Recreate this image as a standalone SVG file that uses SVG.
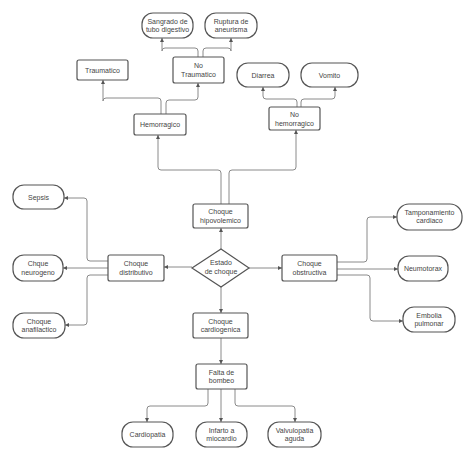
<svg xmlns="http://www.w3.org/2000/svg" width="474" height="460" viewBox="0 0 474 460">
<defs>
<marker id="ah" viewBox="0 0 6 6" refX="6" refY="3" markerWidth="4" markerHeight="4" orient="auto" markerUnits="userSpaceOnUse">
<path d="M0,0 L6,3 L0,6 z" fill="#555"/>
</marker>
<style>
.n rect, .n path.s { fill:#fff; stroke:#555; stroke-width:1.2; }
.n text { font-family:"Liberation Sans", Arial, sans-serif; font-size:7px; fill:#444; text-anchor:middle; }
.c path { fill:none; stroke:#8a8a8a; stroke-width:1; marker-end:url(#ah); }
</style>
</defs>
<rect width="474" height="460" fill="#fff"/>
<g class="c">
<!-- No Traumatico to children -->
<path d="M198,57 V51 Q198,48 195,48 H165 Q162,48 162,51 V38"/>
<path d="M203,57 V51 Q203,48 206,48 H228 Q231,48 231,51 V38"/>
<!-- Hemorragico to children -->
<path d="M161,114 V101 Q161,98 158,98 H106 Q103,98 103,101 V80"/>
<path d="M166,114 V103 Q166,100 169,100 H195 Q198,100 198,97 V83"/>
<!-- No hemorragico to children -->
<path d="M297,107 V102 Q297,99 294,99 H266 Q263,99 263,96 V87"/>
<path d="M301,107 V102 Q301,99 304,99 H332 Q335,99 335,96 V87"/>
<!-- hipovolemico to Hemorragico / No hemorragico -->
<path d="M221,204 V173 Q221,170 218,170 H161 Q158,170 158,167 V135"/>
<path d="M229,204 V173 Q229,170 232,170 H293 Q296,170 296,167 V130"/>
<!-- diamond -->
<path d="M221,249 V228"/>
<path d="M221,287 V313"/>
<path d="M249,268 H282"/>
<path d="M192,267 H164"/>
<!-- distributivo -->
<path d="M108,261 H90 Q87,261 87,258 V201 Q87,198 84,198 H64"/>
<path d="M108,268 H63"/>
<path d="M108,275 H90 Q87,275 87,278 V322 Q87,325 84,325 H65"/>
<!-- obstructiva -->
<path d="M337,262 H364 Q367,262 367,259 V220 Q367,217 370,217 H397"/>
<path d="M337,269 H398"/>
<path d="M337,275 H367 Q370,275 370,278 V318 Q370,321 373,321 H403"/>
<!-- cardiogenica -->
<path d="M221,338 V364"/>
<!-- falta de bombeo -->
<path d="M208,389 V403 Q208,406 205,406 H150 Q147,406 147,409 V422"/>
<path d="M221,389 V422"/>
<path d="M235,389 V403 Q235,406 238,406 H292 Q295,406 295,409 V422"/>
</g>
<g id="sangrado" class="n"><rect x="142" y="13" width="51" height="25" rx="11"/><text x="167.5" y="23.5">Sangrado de</text><text x="167.5" y="32">tubo digestivo</text></g>
<g id="ruptura" class="n"><rect x="205" y="13" width="52" height="25" rx="11"/><text x="231" y="23.5">Ruptura de</text><text x="231" y="32">aneurisma</text></g>
<g id="traumatico" class="n"><rect x="77" y="60" width="51" height="20" rx="2"/><text x="102.5" y="72.5">Traumatico</text></g>
<g id="notraumatico" class="n"><rect x="173" y="57" width="51" height="26" rx="2"/><text x="198.5" y="68">No</text><text x="198.5" y="76.5">Traumatico</text></g>
<g id="hemorragico" class="n"><rect x="134" y="114" width="52" height="21" rx="2"/><text x="160" y="127">Hemorragico</text></g>
<g id="diarrea" class="n"><rect x="237" y="63" width="52" height="24" rx="11"/><text x="263" y="77.5">Diarrea</text></g>
<g id="vomito" class="n"><rect x="301" y="63" width="57" height="24" rx="11"/><text x="329.5" y="77.5">Vomito</text></g>
<g id="nohemorragico" class="n"><rect x="269" y="107" width="51" height="23" rx="2"/><text x="294.5" y="117">No</text><text x="294.5" y="125.5">hemorragico</text></g>
<g id="hipovolemico" class="n"><rect x="193" y="204" width="55" height="24" rx="2"/><text x="220.5" y="214">Choque</text><text x="220.5" y="222.5">hipovolemico</text></g>
<g id="estado" class="n"><path class="s" d="M221,249 L249,268 L221,287 L192,268 z"/><text x="221" y="265">Estado</text><text x="221" y="273.5">de choque</text></g>
<g id="distributivo" class="n"><rect x="108" y="255" width="56" height="26" rx="2"/><text x="136" y="266">Choque</text><text x="136" y="274.5">distributivo</text></g>
<g id="obstructiva" class="n"><rect x="282" y="255" width="55" height="26" rx="2"/><text x="309.5" y="266">Choque</text><text x="309.5" y="274.5">obstructiva</text></g>
<g id="sepsis" class="n"><rect x="13" y="185" width="51" height="24" rx="11"/><text x="38.5" y="199.5">Sepsis</text></g>
<g id="neurogeno" class="n"><rect x="13" y="255" width="50" height="26" rx="11"/><text x="38" y="266">Chque</text><text x="38" y="274.5">neurogeno</text></g>
<g id="anafilactico" class="n"><rect x="13" y="313" width="52" height="25" rx="11"/><text x="39" y="323.5">Choque</text><text x="39" y="332">anafilactico</text></g>
<g id="tamponamiento" class="n"><rect x="397" y="204" width="65" height="26" rx="12"/><text x="429.5" y="214.5">Tamponamiento</text><text x="429.5" y="223">cardiaco</text></g>
<g id="neumotorax" class="n"><rect x="398" y="256" width="50" height="25" rx="11"/><text x="423" y="271">Neumotorax</text></g>
<g id="embolia" class="n"><rect x="403" y="307" width="52" height="25" rx="11"/><text x="429" y="317.5">Embolia</text><text x="429" y="326">pulmonar</text></g>
<g id="cardiogenica" class="n"><rect x="193" y="313" width="55" height="25" rx="2"/><text x="220.5" y="323.5">Choque</text><text x="220.5" y="332">cardiogenica</text></g>
<g id="falta" class="n"><rect x="196" y="364" width="51" height="25" rx="2"/><text x="221.5" y="374.5">Falta de</text><text x="221.5" y="383">bombeo</text></g>
<g id="cardiopatia" class="n"><rect x="122" y="422" width="51" height="25" rx="11"/><text x="147.5" y="437">Cardiopatia</text></g>
<g id="infarto" class="n"><rect x="196" y="422" width="51" height="25" rx="11"/><text x="221.5" y="432.5">Infarto a</text><text x="221.5" y="441">miocardio</text></g>
<g id="valvulopatia" class="n"><rect x="268" y="422" width="53" height="25" rx="11"/><text x="294.5" y="432.5">Valvulopatia</text><text x="294.5" y="441">aguda</text></g>
</svg>
